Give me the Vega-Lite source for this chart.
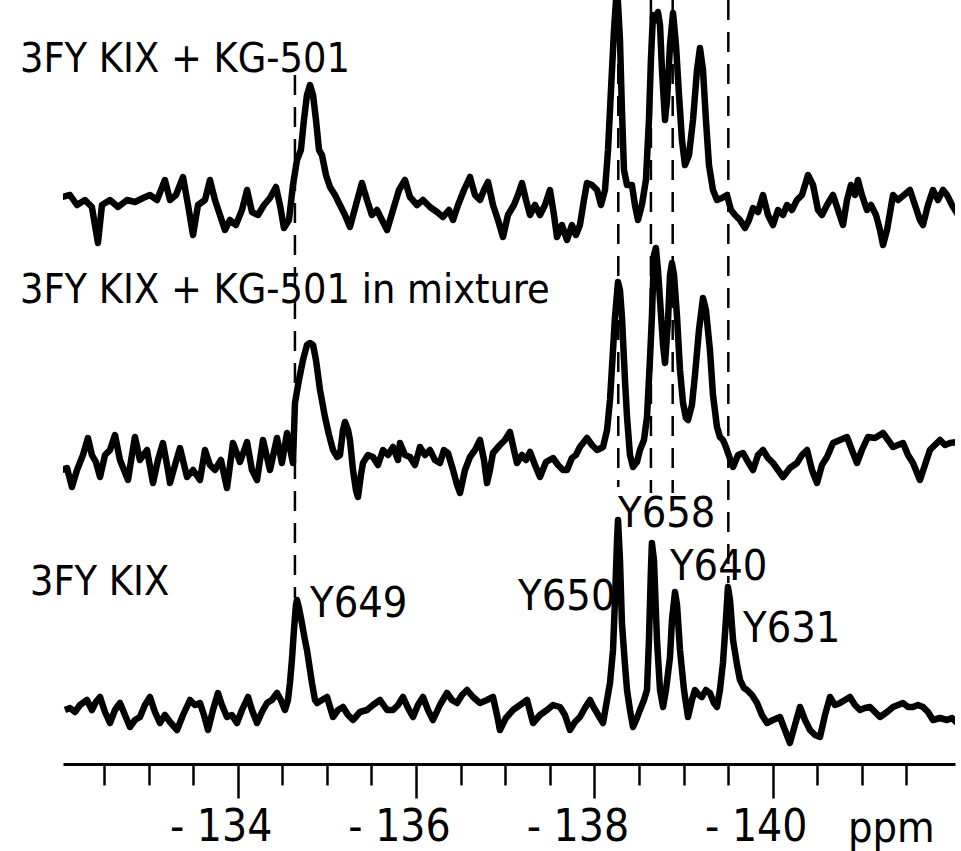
{
"$schema": "https://vega.github.io/schema/vega-lite/v6.json",
"width": 892, "height": 764,
"padding": {"left": 63, "top": 0, "right": 6, "bottom": 87},
"autosize": {"type": "none"},
"background": "white",
"config": {"view": {"stroke": null}, "font": "DejaVu Sans Condensed, Liberation Sans, sans-serif"},
"datasets": {
"spectra": [
{"trace":"A","ppm":-132.029,"intensity":567},{"trace":"A","ppm":-132.119,"intensity":569},{"trace":"A","ppm":-132.198,"intensity":559},{"trace":"A","ppm":-132.287,"intensity":564},{"trace":"A","ppm":-132.365,"intensity":557},{"trace":"A","ppm":-132.433,"intensity":521},{"trace":"A","ppm":-132.478,"intensity":559},{"trace":"A","ppm":-132.568,"intensity":564},{"trace":"A","ppm":-132.658,"intensity":557},{"trace":"A","ppm":-132.759,"intensity":564},{"trace":"A","ppm":-132.848,"intensity":562},{"trace":"A","ppm":-132.938,"intensity":566},{"trace":"A","ppm":-133.016,"intensity":569},{"trace":"A","ppm":-133.095,"intensity":564},{"trace":"A","ppm":-133.184,"intensity":584},{"trace":"A","ppm":-133.241,"intensity":564},{"trace":"A","ppm":-133.308,"intensity":569},{"trace":"A","ppm":-133.387,"intensity":587},{"trace":"A","ppm":-133.443,"intensity":559},{"trace":"A","ppm":-133.499,"intensity":529},{"trace":"A","ppm":-133.555,"intensity":559},{"trace":"A","ppm":-133.633,"intensity":564},{"trace":"A","ppm":-133.689,"intensity":584},{"trace":"A","ppm":-133.745,"intensity":564},{"trace":"A","ppm":-133.801,"intensity":549},{"trace":"A","ppm":-133.857,"intensity":534},{"trace":"A","ppm":-133.913,"intensity":544},{"trace":"A","ppm":-133.980,"intensity":539},{"trace":"A","ppm":-134.048,"intensity":554},{"trace":"A","ppm":-134.105,"intensity":574},{"trace":"A","ppm":-134.160,"intensity":552},{"trace":"A","ppm":-134.228,"intensity":549},{"trace":"A","ppm":-134.295,"intensity":559},{"trace":"A","ppm":-134.362,"intensity":566},{"trace":"A","ppm":-134.429,"intensity":577},{"trace":"A","ppm":-134.474,"intensity":559},{"trace":"A","ppm":-134.519,"intensity":536},{"trace":"A","ppm":-134.575,"intensity":544},{"trace":"A","ppm":-134.620,"intensity":579},{"trace":"A","ppm":-134.665,"intensity":604},{"trace":"A","ppm":-134.709,"intensity":614},{"trace":"A","ppm":-134.743,"intensity":644},{"trace":"A","ppm":-134.777,"intensity":669},{"trace":"A","ppm":-134.811,"intensity":679},{"trace":"A","ppm":-134.845,"intensity":669},{"trace":"A","ppm":-134.878,"intensity":644},{"trace":"A","ppm":-134.912,"intensity":614},{"trace":"A","ppm":-134.945,"intensity":609},{"trace":"A","ppm":-134.990,"intensity":589},{"trace":"A","ppm":-135.035,"intensity":577},{"trace":"A","ppm":-135.091,"intensity":569},{"trace":"A","ppm":-135.147,"intensity":559},{"trace":"A","ppm":-135.203,"intensity":549},{"trace":"A","ppm":-135.259,"intensity":537},{"trace":"A","ppm":-135.326,"intensity":559},{"trace":"A","ppm":-135.393,"intensity":581},{"trace":"A","ppm":-135.450,"intensity":564},{"trace":"A","ppm":-135.505,"intensity":549},{"trace":"A","ppm":-135.562,"intensity":554},{"trace":"A","ppm":-135.618,"intensity":544},{"trace":"A","ppm":-135.675,"intensity":534},{"trace":"A","ppm":-135.742,"intensity":554},{"trace":"A","ppm":-135.809,"intensity":574},{"trace":"A","ppm":-135.876,"intensity":584},{"trace":"A","ppm":-135.932,"intensity":567},{"trace":"A","ppm":-136.011,"intensity":559},{"trace":"A","ppm":-136.078,"intensity":564},{"trace":"A","ppm":-136.156,"intensity":557},{"trace":"A","ppm":-136.235,"intensity":552},{"trace":"A","ppm":-136.302,"intensity":547},{"trace":"A","ppm":-136.369,"intensity":554},{"trace":"A","ppm":-136.415,"intensity":544},{"trace":"A","ppm":-136.471,"intensity":559},{"trace":"A","ppm":-136.538,"intensity":574},{"trace":"A","ppm":-136.605,"intensity":587},{"trace":"A","ppm":-136.661,"intensity":569},{"trace":"A","ppm":-136.717,"intensity":564},{"trace":"A","ppm":-136.762,"intensity":574},{"trace":"A","ppm":-136.807,"intensity":582},{"trace":"A","ppm":-136.863,"intensity":559},{"trace":"A","ppm":-136.919,"intensity":544},{"trace":"A","ppm":-136.975,"intensity":527},{"trace":"A","ppm":-137.031,"intensity":549},{"trace":"A","ppm":-137.098,"intensity":559},{"trace":"A","ppm":-137.143,"intensity":569},{"trace":"A","ppm":-137.188,"intensity":581},{"trace":"A","ppm":-137.233,"intensity":564},{"trace":"A","ppm":-137.278,"intensity":549},{"trace":"A","ppm":-137.334,"intensity":559},{"trace":"A","ppm":-137.390,"intensity":549},{"trace":"A","ppm":-137.446,"intensity":559},{"trace":"A","ppm":-137.502,"intensity":574},{"trace":"A","ppm":-137.547,"intensity":549},{"trace":"A","ppm":-137.581,"intensity":527},{"trace":"A","ppm":-137.636,"intensity":539},{"trace":"A","ppm":-137.693,"intensity":524},{"trace":"A","ppm":-137.748,"intensity":539},{"trace":"A","ppm":-137.793,"intensity":529},{"trace":"A","ppm":-137.838,"intensity":539},{"trace":"A","ppm":-137.883,"intensity":564},{"trace":"A","ppm":-137.917,"intensity":581},{"trace":"A","ppm":-137.973,"intensity":579},{"trace":"A","ppm":-138.030,"intensity":574},{"trace":"A","ppm":-138.074,"intensity":559},{"trace":"A","ppm":-138.119,"intensity":574},{"trace":"A","ppm":-138.153,"intensity":614},{"trace":"A","ppm":-138.186,"intensity":674},{"trace":"A","ppm":-138.220,"intensity":734},{"trace":"A","ppm":-138.254,"intensity":779},{"trace":"A","ppm":-138.287,"intensity":724},{"trace":"A","ppm":-138.309,"intensity":654},{"trace":"A","ppm":-138.332,"intensity":594},{"trace":"A","ppm":-138.366,"intensity":579},{"trace":"A","ppm":-138.421,"intensity":579},{"trace":"A","ppm":-138.455,"intensity":559},{"trace":"A","ppm":-138.489,"intensity":544},{"trace":"A","ppm":-138.533,"intensity":559},{"trace":"A","ppm":-138.578,"intensity":584},{"trace":"A","ppm":-138.612,"intensity":644},{"trace":"A","ppm":-138.634,"intensity":704},{"trace":"A","ppm":-138.657,"intensity":749},{"trace":"A","ppm":-138.690,"intensity":744},{"trace":"A","ppm":-138.713,"intensity":752},{"trace":"A","ppm":-138.736,"intensity":739},{"trace":"A","ppm":-138.758,"intensity":694},{"trace":"A","ppm":-138.792,"intensity":644},{"trace":"A","ppm":-138.815,"intensity":664},{"trace":"A","ppm":-138.848,"intensity":719},{"trace":"A","ppm":-138.882,"intensity":751},{"trace":"A","ppm":-138.915,"intensity":719},{"trace":"A","ppm":-138.949,"intensity":669},{"trace":"A","ppm":-138.982,"intensity":624},{"trace":"A","ppm":-139.016,"intensity":599},{"trace":"A","ppm":-139.061,"intensity":609},{"trace":"A","ppm":-139.106,"intensity":644},{"trace":"A","ppm":-139.151,"intensity":694},{"trace":"A","ppm":-139.184,"intensity":716},{"trace":"A","ppm":-139.218,"intensity":694},{"trace":"A","ppm":-139.251,"intensity":644},{"trace":"A","ppm":-139.285,"intensity":599},{"trace":"A","ppm":-139.330,"intensity":574},{"trace":"A","ppm":-139.375,"intensity":564},{"trace":"A","ppm":-139.430,"intensity":566},{"trace":"A","ppm":-139.487,"intensity":569},{"trace":"A","ppm":-139.532,"intensity":554},{"trace":"A","ppm":-139.577,"intensity":549},{"trace":"A","ppm":-139.633,"intensity":544},{"trace":"A","ppm":-139.689,"intensity":536},{"trace":"A","ppm":-139.734,"intensity":544},{"trace":"A","ppm":-139.779,"intensity":556},{"trace":"A","ppm":-139.835,"intensity":552},{"trace":"A","ppm":-139.891,"intensity":569},{"trace":"A","ppm":-139.947,"intensity":549},{"trace":"A","ppm":-140.003,"intensity":539},{"trace":"A","ppm":-140.059,"intensity":554},{"trace":"A","ppm":-140.115,"intensity":549},{"trace":"A","ppm":-140.160,"intensity":559},{"trace":"A","ppm":-140.215,"intensity":554},{"trace":"A","ppm":-140.272,"intensity":564},{"trace":"A","ppm":-140.328,"intensity":569},{"trace":"A","ppm":-140.396,"intensity":589},{"trace":"A","ppm":-140.452,"intensity":579},{"trace":"A","ppm":-140.508,"intensity":554},{"trace":"A","ppm":-140.552,"intensity":549},{"trace":"A","ppm":-140.609,"intensity":559},{"trace":"A","ppm":-140.676,"intensity":569},{"trace":"A","ppm":-140.732,"intensity":554},{"trace":"A","ppm":-140.788,"intensity":539},{"trace":"A","ppm":-140.833,"intensity":564},{"trace":"A","ppm":-140.877,"intensity":579},{"trace":"A","ppm":-140.922,"intensity":569},{"trace":"A","ppm":-140.956,"intensity":584},{"trace":"A","ppm":-141.000,"intensity":569},{"trace":"A","ppm":-141.057,"intensity":554},{"trace":"A","ppm":-141.102,"intensity":559},{"trace":"A","ppm":-141.158,"intensity":549},{"trace":"A","ppm":-141.203,"intensity":534},{"trace":"A","ppm":-141.237,"intensity":519},{"trace":"A","ppm":-141.282,"intensity":534},{"trace":"A","ppm":-141.349,"intensity":569},{"trace":"A","ppm":-141.405,"intensity":564},{"trace":"A","ppm":-141.472,"intensity":569},{"trace":"A","ppm":-141.539,"intensity":574},{"trace":"A","ppm":-141.595,"intensity":559},{"trace":"A","ppm":-141.651,"intensity":544},{"trace":"A","ppm":-141.685,"intensity":539},{"trace":"A","ppm":-141.741,"intensity":559},{"trace":"A","ppm":-141.797,"intensity":574},{"trace":"A","ppm":-141.853,"intensity":564},{"trace":"A","ppm":-141.910,"intensity":574},{"trace":"A","ppm":-141.955,"intensity":569},{"trace":"A","ppm":-142.010,"intensity":559},{"trace":"A","ppm":-142.078,"intensity":549},
{"trace":"B","ppm":-132.029,"intensity":294},{"trace":"B","ppm":-132.086,"intensity":296},{"trace":"B","ppm":-132.141,"intensity":277},{"trace":"B","ppm":-132.198,"intensity":294},{"trace":"B","ppm":-132.265,"intensity":309},{"trace":"B","ppm":-132.321,"intensity":326},{"trace":"B","ppm":-132.365,"intensity":309},{"trace":"B","ppm":-132.410,"intensity":302},{"trace":"B","ppm":-132.456,"intensity":287},{"trace":"B","ppm":-132.512,"intensity":309},{"trace":"B","ppm":-132.568,"intensity":314},{"trace":"B","ppm":-132.624,"intensity":329},{"trace":"B","ppm":-132.680,"intensity":304},{"trace":"B","ppm":-132.770,"intensity":284},{"trace":"B","ppm":-132.814,"intensity":309},{"trace":"B","ppm":-132.848,"intensity":327},{"trace":"B","ppm":-132.904,"intensity":304},{"trace":"B","ppm":-132.983,"intensity":314},{"trace":"B","ppm":-133.050,"intensity":281},{"trace":"B","ppm":-133.106,"intensity":304},{"trace":"B","ppm":-133.162,"intensity":321},{"trace":"B","ppm":-133.218,"intensity":294},{"trace":"B","ppm":-133.241,"intensity":281},{"trace":"B","ppm":-133.297,"intensity":299},{"trace":"B","ppm":-133.353,"intensity":316},{"trace":"B","ppm":-133.432,"intensity":287},{"trace":"B","ppm":-133.499,"intensity":294},{"trace":"B","ppm":-133.577,"intensity":284},{"trace":"B","ppm":-133.633,"intensity":314},{"trace":"B","ppm":-133.689,"intensity":299},{"trace":"B","ppm":-133.745,"intensity":294},{"trace":"B","ppm":-133.812,"intensity":304},{"trace":"B","ppm":-133.880,"intensity":276},{"trace":"B","ppm":-133.947,"intensity":321},{"trace":"B","ppm":-134.026,"intensity":302},{"trace":"B","ppm":-134.105,"intensity":322},{"trace":"B","ppm":-134.160,"intensity":294},{"trace":"B","ppm":-134.217,"intensity":284},{"trace":"B","ppm":-134.284,"intensity":324},{"trace":"B","ppm":-134.362,"intensity":294},{"trace":"B","ppm":-134.441,"intensity":326},{"trace":"B","ppm":-134.496,"intensity":301},{"trace":"B","ppm":-134.553,"intensity":331},{"trace":"B","ppm":-134.620,"intensity":301},{"trace":"B","ppm":-134.642,"intensity":361},{"trace":"B","ppm":-134.687,"intensity":384},{"trace":"B","ppm":-134.732,"intensity":404},{"trace":"B","ppm":-134.777,"intensity":419},{"trace":"B","ppm":-134.811,"intensity":421},{"trace":"B","ppm":-134.845,"intensity":419},{"trace":"B","ppm":-134.878,"intensity":404},{"trace":"B","ppm":-134.923,"intensity":374},{"trace":"B","ppm":-134.979,"intensity":347},{"trace":"B","ppm":-135.024,"intensity":329},{"trace":"B","ppm":-135.069,"intensity":314},{"trace":"B","ppm":-135.114,"intensity":307},{"trace":"B","ppm":-135.147,"intensity":309},{"trace":"B","ppm":-135.181,"intensity":334},{"trace":"B","ppm":-135.203,"intensity":342},{"trace":"B","ppm":-135.237,"intensity":334},{"trace":"B","ppm":-135.259,"intensity":324},{"trace":"B","ppm":-135.293,"intensity":294},{"trace":"B","ppm":-135.326,"intensity":274},{"trace":"B","ppm":-135.349,"intensity":267},{"trace":"B","ppm":-135.382,"intensity":289},{"trace":"B","ppm":-135.405,"intensity":301},{"trace":"B","ppm":-135.461,"intensity":309},{"trace":"B","ppm":-135.517,"intensity":307},{"trace":"B","ppm":-135.573,"intensity":299},{"trace":"B","ppm":-135.630,"intensity":314},{"trace":"B","ppm":-135.686,"intensity":309},{"trace":"B","ppm":-135.742,"intensity":317},{"trace":"B","ppm":-135.798,"intensity":304},{"trace":"B","ppm":-135.820,"intensity":321},{"trace":"B","ppm":-135.876,"intensity":309},{"trace":"B","ppm":-135.932,"intensity":307},{"trace":"B","ppm":-135.988,"intensity":299},{"trace":"B","ppm":-136.044,"intensity":317},{"trace":"B","ppm":-136.100,"intensity":309},{"trace":"B","ppm":-136.156,"intensity":314},{"trace":"B","ppm":-136.212,"intensity":304},{"trace":"B","ppm":-136.268,"intensity":301},{"trace":"B","ppm":-136.313,"intensity":314},{"trace":"B","ppm":-136.358,"intensity":311},{"trace":"B","ppm":-136.415,"intensity":294},{"trace":"B","ppm":-136.460,"intensity":279},{"trace":"B","ppm":-136.493,"intensity":271},{"trace":"B","ppm":-136.549,"intensity":294},{"trace":"B","ppm":-136.605,"intensity":307},{"trace":"B","ppm":-136.661,"intensity":314},{"trace":"B","ppm":-136.717,"intensity":324},{"trace":"B","ppm":-136.762,"intensity":304},{"trace":"B","ppm":-136.796,"intensity":281},{"trace":"B","ppm":-136.829,"intensity":294},{"trace":"B","ppm":-136.863,"intensity":311},{"trace":"B","ppm":-136.941,"intensity":319},{"trace":"B","ppm":-136.997,"intensity":324},{"trace":"B","ppm":-137.053,"intensity":332},{"trace":"B","ppm":-137.098,"intensity":314},{"trace":"B","ppm":-137.132,"intensity":301},{"trace":"B","ppm":-137.188,"intensity":309},{"trace":"B","ppm":-137.233,"intensity":304},{"trace":"B","ppm":-137.278,"intensity":312},{"trace":"B","ppm":-137.334,"intensity":299},{"trace":"B","ppm":-137.390,"intensity":287},{"trace":"B","ppm":-137.457,"intensity":302},{"trace":"B","ppm":-137.536,"intensity":306},{"trace":"B","ppm":-137.592,"intensity":299},{"trace":"B","ppm":-137.648,"intensity":294},{"trace":"B","ppm":-137.693,"intensity":294},{"trace":"B","ppm":-137.748,"intensity":306},{"trace":"B","ppm":-137.793,"intensity":309},{"trace":"B","ppm":-137.838,"intensity":317},{"trace":"B","ppm":-137.917,"intensity":326},{"trace":"B","ppm":-137.973,"intensity":319},{"trace":"B","ppm":-138.030,"intensity":314},{"trace":"B","ppm":-138.097,"intensity":317},{"trace":"B","ppm":-138.142,"intensity":334},{"trace":"B","ppm":-138.175,"intensity":364},{"trace":"B","ppm":-138.209,"intensity":414},{"trace":"B","ppm":-138.231,"intensity":447},{"trace":"B","ppm":-138.265,"intensity":482},{"trace":"B","ppm":-138.287,"intensity":474},{"trace":"B","ppm":-138.309,"intensity":447},{"trace":"B","ppm":-138.343,"intensity":384},{"trace":"B","ppm":-138.366,"intensity":347},{"trace":"B","ppm":-138.399,"intensity":309},{"trace":"B","ppm":-138.433,"intensity":297},{"trace":"B","ppm":-138.478,"intensity":302},{"trace":"B","ppm":-138.511,"intensity":314},{"trace":"B","ppm":-138.556,"intensity":324},{"trace":"B","ppm":-138.590,"intensity":347},{"trace":"B","ppm":-138.623,"intensity":404},{"trace":"B","ppm":-138.645,"intensity":447},{"trace":"B","ppm":-138.668,"intensity":509},{"trace":"B","ppm":-138.690,"intensity":516},{"trace":"B","ppm":-138.713,"intensity":494},{"trace":"B","ppm":-138.736,"intensity":464},{"trace":"B","ppm":-138.770,"intensity":419},{"trace":"B","ppm":-138.792,"intensity":401},{"trace":"B","ppm":-138.826,"intensity":444},{"trace":"B","ppm":-138.848,"intensity":489},{"trace":"B","ppm":-138.870,"intensity":501},{"trace":"B","ppm":-138.893,"intensity":489},{"trace":"B","ppm":-138.927,"intensity":447},{"trace":"B","ppm":-138.960,"intensity":394},{"trace":"B","ppm":-138.994,"intensity":361},{"trace":"B","ppm":-139.027,"intensity":346},{"trace":"B","ppm":-139.050,"intensity":344},{"trace":"B","ppm":-139.094,"intensity":359},{"trace":"B","ppm":-139.128,"intensity":389},{"trace":"B","ppm":-139.173,"intensity":434},{"trace":"B","ppm":-139.218,"intensity":466},{"trace":"B","ppm":-139.251,"intensity":454},{"trace":"B","ppm":-139.296,"intensity":414},{"trace":"B","ppm":-139.330,"intensity":369},{"trace":"B","ppm":-139.375,"intensity":337},{"trace":"B","ppm":-139.408,"intensity":327},{"trace":"B","ppm":-139.442,"intensity":324},{"trace":"B","ppm":-139.475,"intensity":317},{"trace":"B","ppm":-139.498,"intensity":311},{"trace":"B","ppm":-139.555,"intensity":297},{"trace":"B","ppm":-139.611,"intensity":309},{"trace":"B","ppm":-139.667,"intensity":311},{"trace":"B","ppm":-139.723,"intensity":302},{"trace":"B","ppm":-139.779,"intensity":294},{"trace":"B","ppm":-139.835,"intensity":309},{"trace":"B","ppm":-139.891,"intensity":314},{"trace":"B","ppm":-139.947,"intensity":306},{"trace":"B","ppm":-140.003,"intensity":301},{"trace":"B","ppm":-140.059,"intensity":294},{"trace":"B","ppm":-140.115,"intensity":287},{"trace":"B","ppm":-140.193,"intensity":296},{"trace":"B","ppm":-140.272,"intensity":301},{"trace":"B","ppm":-140.328,"intensity":309},{"trace":"B","ppm":-140.385,"intensity":314},{"trace":"B","ppm":-140.440,"intensity":294},{"trace":"B","ppm":-140.497,"intensity":281},{"trace":"B","ppm":-140.552,"intensity":299},{"trace":"B","ppm":-140.609,"intensity":307},{"trace":"B","ppm":-140.676,"intensity":321},{"trace":"B","ppm":-140.754,"intensity":324},{"trace":"B","ppm":-140.833,"intensity":327},{"trace":"B","ppm":-140.888,"intensity":314},{"trace":"B","ppm":-140.945,"intensity":301},{"trace":"B","ppm":-141.000,"intensity":314},{"trace":"B","ppm":-141.068,"intensity":327},{"trace":"B","ppm":-141.147,"intensity":326},{"trace":"B","ppm":-141.237,"intensity":331},{"trace":"B","ppm":-141.293,"intensity":324},{"trace":"B","ppm":-141.349,"intensity":317},{"trace":"B","ppm":-141.405,"intensity":319},{"trace":"B","ppm":-141.461,"intensity":321},{"trace":"B","ppm":-141.517,"intensity":309},{"trace":"B","ppm":-141.573,"intensity":301},{"trace":"B","ppm":-141.651,"intensity":284},{"trace":"B","ppm":-141.707,"intensity":299},{"trace":"B","ppm":-141.763,"intensity":314},{"trace":"B","ppm":-141.819,"intensity":319},{"trace":"B","ppm":-141.876,"intensity":324},{"trace":"B","ppm":-141.932,"intensity":319},{"trace":"B","ppm":-141.988,"intensity":321},{"trace":"B","ppm":-142.078,"intensity":322},
{"trace":"C","ppm":-132.063,"intensity":54},{"trace":"C","ppm":-132.119,"intensity":56},{"trace":"C","ppm":-132.175,"intensity":52},{"trace":"C","ppm":-132.231,"intensity":59},{"trace":"C","ppm":-132.310,"intensity":64},{"trace":"C","ppm":-132.365,"intensity":54},{"trace":"C","ppm":-132.410,"intensity":62},{"trace":"C","ppm":-132.456,"intensity":67},{"trace":"C","ppm":-132.512,"intensity":52},{"trace":"C","ppm":-132.568,"intensity":41},{"trace":"C","ppm":-132.624,"intensity":54},{"trace":"C","ppm":-132.680,"intensity":61},{"trace":"C","ppm":-132.736,"intensity":49},{"trace":"C","ppm":-132.792,"intensity":37},{"trace":"C","ppm":-132.848,"intensity":44},{"trace":"C","ppm":-132.904,"intensity":47},{"trace":"C","ppm":-132.960,"intensity":59},{"trace":"C","ppm":-133.016,"intensity":67},{"trace":"C","ppm":-133.072,"intensity":52},{"trace":"C","ppm":-133.128,"intensity":41},{"trace":"C","ppm":-133.184,"intensity":49},{"trace":"C","ppm":-133.241,"intensity":42},{"trace":"C","ppm":-133.320,"intensity":34},{"trace":"C","ppm":-133.387,"intensity":49},{"trace":"C","ppm":-133.465,"intensity":64},{"trace":"C","ppm":-133.521,"intensity":59},{"trace":"C","ppm":-133.577,"intensity":61},{"trace":"C","ppm":-133.622,"intensity":49},{"trace":"C","ppm":-133.667,"intensity":34},{"trace":"C","ppm":-133.723,"intensity":54},{"trace":"C","ppm":-133.779,"intensity":71},{"trace":"C","ppm":-133.823,"intensity":59},{"trace":"C","ppm":-133.880,"intensity":47},{"trace":"C","ppm":-133.935,"intensity":49},{"trace":"C","ppm":-133.992,"intensity":41},{"trace":"C","ppm":-134.048,"intensity":54},{"trace":"C","ppm":-134.116,"intensity":67},{"trace":"C","ppm":-134.160,"intensity":54},{"trace":"C","ppm":-134.217,"intensity":41},{"trace":"C","ppm":-134.272,"intensity":52},{"trace":"C","ppm":-134.329,"intensity":61},{"trace":"C","ppm":-134.384,"intensity":64},{"trace":"C","ppm":-134.441,"intensity":71},{"trace":"C","ppm":-134.485,"intensity":64},{"trace":"C","ppm":-134.530,"intensity":54},{"trace":"C","ppm":-134.564,"intensity":64},{"trace":"C","ppm":-134.586,"intensity":81},{"trace":"C","ppm":-134.608,"intensity":104},{"trace":"C","ppm":-134.631,"intensity":134},{"trace":"C","ppm":-134.653,"intensity":159},{"trace":"C","ppm":-134.665,"intensity":164},{"trace":"C","ppm":-134.687,"intensity":156},{"trace":"C","ppm":-134.720,"intensity":141},{"trace":"C","ppm":-134.754,"intensity":124},{"trace":"C","ppm":-134.777,"intensity":114},{"trace":"C","ppm":-134.811,"intensity":94},{"trace":"C","ppm":-134.833,"intensity":81},{"trace":"C","ppm":-134.867,"intensity":64},{"trace":"C","ppm":-134.890,"intensity":61},{"trace":"C","ppm":-134.945,"intensity":64},{"trace":"C","ppm":-135.002,"intensity":67},{"trace":"C","ppm":-135.069,"intensity":47},{"trace":"C","ppm":-135.125,"intensity":54},{"trace":"C","ppm":-135.181,"intensity":57},{"trace":"C","ppm":-135.237,"intensity":49},{"trace":"C","ppm":-135.293,"intensity":44},{"trace":"C","ppm":-135.371,"intensity":52},{"trace":"C","ppm":-135.450,"intensity":54},{"trace":"C","ppm":-135.517,"intensity":59},{"trace":"C","ppm":-135.596,"intensity":64},{"trace":"C","ppm":-135.675,"intensity":54},{"trace":"C","ppm":-135.742,"intensity":54},{"trace":"C","ppm":-135.798,"intensity":59},{"trace":"C","ppm":-135.854,"intensity":67},{"trace":"C","ppm":-135.910,"intensity":56},{"trace":"C","ppm":-135.966,"intensity":47},{"trace":"C","ppm":-136.022,"intensity":59},{"trace":"C","ppm":-136.078,"intensity":67},{"trace":"C","ppm":-136.134,"intensity":54},{"trace":"C","ppm":-136.190,"intensity":44},{"trace":"C","ppm":-136.268,"intensity":59},{"trace":"C","ppm":-136.347,"intensity":71},{"trace":"C","ppm":-136.403,"intensity":64},{"trace":"C","ppm":-136.460,"intensity":61},{"trace":"C","ppm":-136.515,"intensity":69},{"trace":"C","ppm":-136.572,"intensity":74},{"trace":"C","ppm":-136.639,"intensity":67},{"trace":"C","ppm":-136.717,"intensity":61},{"trace":"C","ppm":-136.796,"intensity":64},{"trace":"C","ppm":-136.863,"intensity":67},{"trace":"C","ppm":-136.908,"intensity":49},{"trace":"C","ppm":-136.941,"intensity":34},{"trace":"C","ppm":-137.008,"intensity":46},{"trace":"C","ppm":-137.087,"intensity":54},{"trace":"C","ppm":-137.166,"intensity":59},{"trace":"C","ppm":-137.245,"intensity":64},{"trace":"C","ppm":-137.312,"intensity":41},{"trace":"C","ppm":-137.390,"intensity":49},{"trace":"C","ppm":-137.469,"intensity":54},{"trace":"C","ppm":-137.536,"intensity":59},{"trace":"C","ppm":-137.614,"intensity":57},{"trace":"C","ppm":-137.670,"intensity":49},{"trace":"C","ppm":-137.726,"intensity":34},{"trace":"C","ppm":-137.782,"intensity":42},{"trace":"C","ppm":-137.838,"intensity":47},{"trace":"C","ppm":-137.894,"intensity":56},{"trace":"C","ppm":-137.951,"intensity":64},{"trace":"C","ppm":-137.996,"intensity":56},{"trace":"C","ppm":-138.030,"intensity":51},{"trace":"C","ppm":-138.063,"intensity":46},{"trace":"C","ppm":-138.097,"intensity":41},{"trace":"C","ppm":-138.142,"intensity":64},{"trace":"C","ppm":-138.175,"intensity":81},{"trace":"C","ppm":-138.209,"intensity":114},{"trace":"C","ppm":-138.231,"intensity":164},{"trace":"C","ppm":-138.254,"intensity":224},{"trace":"C","ppm":-138.265,"intensity":244},{"trace":"C","ppm":-138.287,"intensity":204},{"trace":"C","ppm":-138.309,"intensity":141},{"trace":"C","ppm":-138.343,"intensity":99},{"trace":"C","ppm":-138.366,"intensity":74},{"trace":"C","ppm":-138.399,"intensity":54},{"trace":"C","ppm":-138.433,"intensity":37},{"trace":"C","ppm":-138.478,"intensity":46},{"trace":"C","ppm":-138.511,"intensity":54},{"trace":"C","ppm":-138.556,"intensity":64},{"trace":"C","ppm":-138.590,"intensity":74},{"trace":"C","ppm":-138.612,"intensity":124},{"trace":"C","ppm":-138.634,"intensity":194},{"trace":"C","ppm":-138.645,"intensity":221},{"trace":"C","ppm":-138.668,"intensity":204},{"trace":"C","ppm":-138.702,"intensity":124},{"trace":"C","ppm":-138.736,"intensity":74},{"trace":"C","ppm":-138.770,"intensity":57},{"trace":"C","ppm":-138.803,"intensity":74},{"trace":"C","ppm":-138.848,"intensity":107},{"trace":"C","ppm":-138.870,"intensity":144},{"trace":"C","ppm":-138.904,"intensity":172},{"trace":"C","ppm":-138.927,"intensity":159},{"trace":"C","ppm":-138.960,"intensity":114},{"trace":"C","ppm":-139.005,"intensity":74},{"trace":"C","ppm":-139.050,"intensity":47},{"trace":"C","ppm":-139.094,"intensity":64},{"trace":"C","ppm":-139.128,"intensity":74},{"trace":"C","ppm":-139.173,"intensity":69},{"trace":"C","ppm":-139.206,"intensity":67},{"trace":"C","ppm":-139.251,"intensity":74},{"trace":"C","ppm":-139.296,"intensity":71},{"trace":"C","ppm":-139.341,"intensity":61},{"trace":"C","ppm":-139.375,"intensity":57},{"trace":"C","ppm":-139.408,"intensity":74},{"trace":"C","ppm":-139.442,"intensity":101},{"trace":"C","ppm":-139.475,"intensity":144},{"trace":"C","ppm":-139.498,"intensity":177},{"trace":"C","ppm":-139.521,"intensity":164},{"trace":"C","ppm":-139.555,"intensity":124},{"trace":"C","ppm":-139.600,"intensity":99},{"trace":"C","ppm":-139.633,"intensity":84},{"trace":"C","ppm":-139.678,"intensity":76},{"trace":"C","ppm":-139.712,"intensity":74},{"trace":"C","ppm":-139.767,"intensity":69},{"trace":"C","ppm":-139.824,"intensity":61},{"trace":"C","ppm":-139.879,"intensity":49},{"trace":"C","ppm":-139.936,"intensity":41},{"trace":"C","ppm":-140.003,"intensity":44},{"trace":"C","ppm":-140.081,"intensity":47},{"trace":"C","ppm":-140.137,"intensity":34},{"trace":"C","ppm":-140.193,"intensity":21},{"trace":"C","ppm":-140.249,"intensity":39},{"trace":"C","ppm":-140.306,"intensity":57},{"trace":"C","ppm":-140.362,"intensity":44},{"trace":"C","ppm":-140.418,"intensity":34},{"trace":"C","ppm":-140.474,"intensity":29},{"trace":"C","ppm":-140.530,"intensity":27},{"trace":"C","ppm":-140.586,"intensity":49},{"trace":"C","ppm":-140.642,"intensity":67},{"trace":"C","ppm":-140.698,"intensity":59},{"trace":"C","ppm":-140.754,"intensity":61},{"trace":"C","ppm":-140.810,"intensity":64},{"trace":"C","ppm":-140.866,"intensity":67},{"trace":"C","ppm":-140.922,"intensity":59},{"trace":"C","ppm":-140.978,"intensity":54},{"trace":"C","ppm":-141.034,"intensity":56},{"trace":"C","ppm":-141.091,"intensity":57},{"trace":"C","ppm":-141.147,"intensity":52},{"trace":"C","ppm":-141.203,"intensity":47},{"trace":"C","ppm":-141.282,"intensity":52},{"trace":"C","ppm":-141.349,"intensity":57},{"trace":"C","ppm":-141.405,"intensity":59},{"trace":"C","ppm":-141.461,"intensity":61},{"trace":"C","ppm":-141.517,"intensity":57},{"trace":"C","ppm":-141.573,"intensity":57},{"trace":"C","ppm":-141.629,"intensity":59},{"trace":"C","ppm":-141.685,"intensity":57},{"trace":"C","ppm":-141.741,"intensity":52},{"trace":"C","ppm":-141.797,"intensity":44},{"trace":"C","ppm":-141.876,"intensity":46},{"trace":"C","ppm":-141.955,"intensity":44},{"trace":"C","ppm":-142.010,"intensity":46},{"trace":"C","ppm":-142.067,"intensity":41}
],
"guides": [
{"ppm":-134.642,"top":689,"bottom":166},
{"ppm":-138.268,"top":764,"bottom":277},
{"ppm":-138.634,"top":764,"bottom":271},
{"ppm":-138.878,"top":764,"bottom":271},
{"ppm":-139.502,"top":764,"bottom":181}
],
"labels": [
{"kind":"trace","label":"3FY KIX + KG-501","ppm":-131.558,"intensity":692},
{"kind":"trace","label":"3FY KIX + KG-501 in mixture","ppm":-131.558,"intensity":461},
{"kind":"trace","label":"3FY KIX","ppm":-131.670,"intensity":169},
{"kind":"peak","label":"Y649","ppm":-134.811,"intensity":147},
{"kind":"peak","label":"Y650","ppm":-137.144,"intensity":154},
{"kind":"peak","label":"Y658","ppm":-138.265,"intensity":237},
{"kind":"peak","label":"Y640","ppm":-138.848,"intensity":184},
{"kind":"peak","label":"Y631","ppm":-139.667,"intensity":122},
{"kind":"unit","label":"ppm","ppm":-140.844,"intensity":-78}
]
},
"resolve": {"scale": {"x": "independent"}, "axis": {"x": "independent"}},
"layer": [
{
"data": {"name": "guides"},
"mark": {"type": "rule", "color": "black", "strokeWidth": 2.5, "strokeDash": [20, 12]},
"encoding": {
"x": {"field": "ppm", "type": "quantitative", "scale": {"domain": [-132.041, -142.044], "nice": false, "zero": false},
"axis": {"orient": "bottom", "values": [-132.5,-133,-133.5,-134.5,-135,-135.5,-136.5,-137,-137.5,-138.5,-139,-139.5,-140.5,-141,-141.5], "labels": false, "tickSize": 21, "tickWidth": 2.5, "tickColor": "black", "domain": true, "domainWidth": 3, "domainColor": "black", "grid": false, "title": null}},
"y": {"field": "top", "type": "quantitative", "scale": {"domain": [0, 764], "nice": false, "zero": false}, "axis": null},
"y2": {"field": "bottom"}
}
},
{
"data": {"name": "spectra"},
"mark": {"type": "line", "color": "black", "strokeWidth": 6.5, "strokeJoin": "round", "clip": true},
"encoding": {
"x": {"field": "ppm", "type": "quantitative", "scale": {"domain": [-132.041, -142.044], "nice": false, "zero": false},
"axis": {"orient": "bottom", "values": [-134, -136, -138, -140], "domain": false, "tickSize": 34, "tickWidth": 2.5, "tickColor": "black", "grid": false, "title": null, "labelExpr": "'- ' + abs(datum.value)", "labelFont": "DejaVu Sans Condensed, Liberation Sans, sans-serif", "labelFontSize": 44, "labelColor": "black", "labelPadding": 42, "labelBaseline": "alphabetic", "labelOffset": -17, "labelFlush": false, "labelOverlap": false}},
"y": {"field": "intensity", "type": "quantitative", "scale": {"domain": [0, 764], "nice": false, "zero": false}, "axis": null},
"detail": {"field": "trace"}
}
},
{
"data": {"name": "labels"},
"transform": [{"filter": "datum.kind === 'trace'"}],
"mark": {"type": "text", "align": "left", "baseline": "alphabetic", "font": "DejaVu Sans Condensed, Liberation Sans, sans-serif", "fontSize": 41, "color": "black"},
"encoding": {
"x": {"field": "ppm", "type": "quantitative", "scale": {"domain": [-132.041, -142.044], "nice": false, "zero": false}, "axis": null},
"y": {"field": "intensity", "type": "quantitative"},
"text": {"field": "label"}
}
},
{
"data": {"name": "labels"},
"transform": [{"filter": "datum.kind !== 'trace'"}],
"mark": {"type": "text", "align": "left", "baseline": "alphabetic", "font": "DejaVu Sans Condensed, Liberation Sans, sans-serif", "fontSize": 43, "color": "black"},
"encoding": {
"x": {"field": "ppm", "type": "quantitative", "scale": {"domain": [-132.041, -142.044], "nice": false, "zero": false}, "axis": null},
"y": {"field": "intensity", "type": "quantitative"},
"text": {"field": "label"}
}
}
]
}
